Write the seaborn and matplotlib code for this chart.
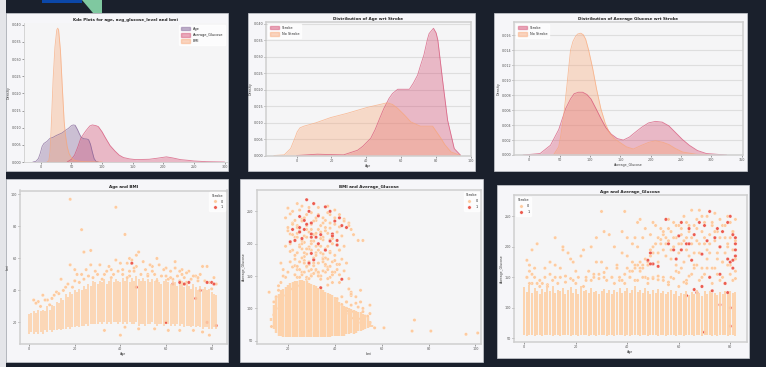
import numpy as np
import pandas as pd
import seaborn as sns
import matplotlib
matplotlib.use('Agg')
import matplotlib.pyplot as plt
from matplotlib.patches import Rectangle, Polygon, Patch

# kde curves
age_x = [-13,-8,-4,-1,2,5,10,15,20,25,30,35,40,45,50,53,56,60,63,66,70,75,78,81,84,87,90,94]
age_y = [0,.0002,.001,.0025,.0045,.0054,.006,.0069,.0072,.0077,.0081,.0085,.0092,.0098,.0106,.0108,.0107,.0094,.0082,.0072,.0068,.0067,.0065,.0052,.003,.001,.0002,0]
glu_x = [43,50,55,60,65,70,74,80,84,90,94,100,105,113,121,128,135,145,155,177,190,205,215,228,240,250,270,300]
glu_y = [0,.0008,.002,.0042,.0068,.0082,.0092,.0105,.0108,.0106,.0103,.0088,.0072,.0048,.0032,.002,.0013,.0009,.0007,.0008,.0011,.0015,.0012,.0007,.0005,.0003,.0001,0]
bmi_x = [10,13,15,17,20,23,26,27.5,29,32,35,38,40,43,46,50,55,60,70,100]
bmi_y = [0,.0003,.003,.0105,.024,.0335,.0385,.039,.0385,.0325,.022,.012,.0081,.0045,.0025,.0012,.0005,.0003,.0001,0]

age_st_x = [0,12,18,27,35,38,42.5,45,48,50,53,55,58,61,64.7,67,69.4,71,73,75,76,78.5,80,81,83.7,86.6,90.4,94]
age_st_y = [0,.0004,.0003,.0002,.0016,.0028,.0052,.0078,.0117,.0142,.0173,.0188,.0201,.0201,.0201,.022,.0244,.0272,.0305,.0352,.037,.0386,.0372,.035,.0229,.0107,.0021,.0001]
age_no_x = [-13,-7,-3.4,-1,0.4,2,4.2,11,19.5,29,40.6,52,55,58,62,65.5,71,78,82.8,85,88.5,94]
age_no_y = [0,.0002,.0021,.0052,.0072,.0084,.0089,.0099,.0115,.0128,.0146,.016,.0155,.0143,.0122,.0102,.0089,.0089,.0052,.0033,.0011,0]

avg_st_x = [-10,18,35,48.6,60,68,74,81,88,95,101.7,110,118,126,135,145,155,165,174,185,196.6,208,219,230,241,252,263.7,277,291.6,325]
avg_st_y = [0,.0002,.0013,.0034,.0062,.0075,.0082,.0084,.0084,.0081,.0075,.0062,.0049,.0037,.0028,.0022,.002,.0024,.003,.0037,.0043,.0045,.0044,.0039,.003,.0021,.0013,.0006,.0002,0]
avg_no_x = [40,48.6,52,57,62,68,72,76.5,80,85,89,93,98,104.5,111,118,125,132,140,149,160,171.5,185,197,208,220,230,240,252.5,275,298]
avg_no_y = [0,.0011,.0026,.0054,.0092,.014,.0152,.0159,.0162,.0163,.0161,.0155,.014,.0116,.0088,.0062,.0043,.003,.0022,.0017,.0011,.0008,.0013,.0017,.0019,.0017,.0014,.0009,.0004,.0001,0]

# dense vertical bands: age column, lowest and highest bmi
band_age = list(range(0, 83))
band_bmi_low = [13,14,13,14,13,14,13,15,14,15,14,15,15,16,15,16,16,17,16,17,17,18,17,18,18,19,18,19,19,19,19,20,19,20,19,20,19,20,20,19,20,19,20,19,20,19,19,20,18,19,19,18,19,19,20,19,18,19,19,18,20,19,18,19,18,19,18,19,17,18,18,17,18,17,18,17,16,17,17,16,16,17,16]
band_bmi_high = [25,26,27,26,28,27,28,27,30,28,31,30,33,32,35,34,38,36,39,38,40,39,41,40,43,41,44,43,46,45,44,46,45,47,44,46,48,45,47,46,45,48,46,47,45,48,46,49,47,46,48,46,47,45,47,46,48,45,44,46,47,45,44,46,45,43,44,46,42,44,43,41,44,42,40,43,41,42,40,41,39,38,37]

# vertical bands for bmi vs glucose: bmi column, lowest and highest glucose
band_b_x = list(range(13, 57))
band_b_low = [80,68,62,58,57,56,56,56,56,56,56,56,56,56,56,56,56,56,56,56,56,56,56,56,56,56,57,57,57,57,58,58,60,60,62,60,62,65,65,66,68,70,72,75]
band_b_high = [85,105,118,123,128,130,133,136,139,141,142,143,144,144,143,142,140,138,136,134,132,130,128,126,124,122,120,118,114,110,106,104,102,100,99,98,96,95,94,92,90,86,80,72]

# vertical bands for age vs glucose
band_g_low = [55,54,55,55,54,55,55,54,55,55,55,54,55,55,54,55,55,55,54,55,55,54,55,55,55,54,55,55,54,55,55,55,54,55,55,54,55,55,55,54,55,54,55,55,55,54,55,55,54,55,55,55,54,55,55,54,55,55,55,54,55,55,54,55,55,55,54,55,55,54,55,55,55,54,55,54,55,55,55,54,55,55,54]
band_g_high = [134,126,138,125,132,128,122,131,126,135,128,136,124,130,127,133,122,129,134,125,131,123,135,127,130,124,132,126,128,122,127,131,125,129,123,130,126,133,124,128,132,125,129,135,126,130,124,132,127,122,129,125,131,124,128,122,126,130,123,127,120,125,122,128,121,126,123,129,124,120,127,122,128,125,124,121,126,123,127,122,128,124,126]

# scattered points around the bands
age_bmi_x = [18,38,23,42,24,27,18,14,20,23,25,28,31,33,36,38,40,41,43,44,45,46,47,47,48,50,52,54,56,57,60,62,63,64,66,67,68,70,73,74,76,78,80,2,4,6,8,10,12,30,35,39,54,61,66,69,72,81,56,44,
             40,79,61,66,42,33,48,55,72,76,20,21,24,26,29,32,34,37,41,43,46,49,51,53,55,58,59,62,64,65,67,69,71,74,75,77,79,82,3,5,7,9,11,13,15,16,17,19,22,27,36,44,52,60,68]
age_bmi_y = [97,92,78,75,64,65,56,47,53,50,53,48,56,50,53,59,57,50,57,60,59,52,55,62,64,58,50,52,60,56,54,52,47,58,46,53,48,52,49,48,55,55,41,34,33,37,34,35,39,50,55,52,55,47,52,51,49,48,46,49,
             12,12,15,15,17,15,16,16,15,14,46,50,47,49,52,47,52,50,53,48,54,50,53,56,50,49,53,48,54,49,50,45,47,46,50,46,45,44,32,30,34,31,37,38,40,42,44,42,45,56,48,52,49,49,44]
age_bmi_rx = [45,47,63,66,68,70,73,75,78,80,60,78,82,81]
age_bmi_ry = [57,42,44,45,44,45,35,40,45,45,20,20,18,44]

bg_x = [20,22,24,26,28,30,31,33,35,37,38,40,42,44,46,20,22,24,26,28,30,32,34,36,38,40,42,44,46,48,21,23,25,27,29,31,33,35,37,39,41,43,45,47,50,21,23,25,27,29,31,33,35,37,39,22,24,26,28,30,32,34,36,38,40,42,44,23,25,27,29,31,33,35,37,39,41,43,24,26,28,30,32,34,36,38,40,42,45,52,17,18,19,20,22,24,26,28,30,32,34,36,39,42,44,46,18,20,22,24,26,28,31,34,37,41,47,51,51,55,61,73,74,81,96,101,55,52,45,45,47,49,42,43,28,
        19,21,23,25,27,29,31,33,35,37,20,22,24,26,28,30,32,34,36,38,19,21,23,25,27,29,31,33,35,37,21,23,25,27,29,31,33,35,37,39,23,25,27,29,31,33,35,37,39,41,22,24,26,28,30,32,34,36,38,40,24,26,28,30,32,34,36,38,40,42,43,45,47,49,44,46,48,50,52,54,46,48,50,53,47,49,51,55,57,45,12,14,15,16,17,14,16,18,15,13,24,27,30,33,36,26,29,32,35,38]
bg_y = [255,250,262,258,245,248,262,256,240,258,245,252,245,238,232,225,232,228,238,222,230,236,228,225,232,240,226,235,228,214,215,210,220,212,218,214,222,210,216,208,218,212,225,222,205,200,205,198,202,195,204,198,206,196,200,190,186,192,184,190,196,186,192,188,182,190,196,176,172,180,168,176,170,178,164,172,168,176,160,156,164,152,158,150,166,148,156,152,170,205,170,160,148,156,164,148,152,145,150,160,150,156,140,168,158,146,120,125,130,135,138,148,170,145,136,115,120,128,110,105,70,65,82,65,60,62,92,100,110,100,125,118,140,106,165,
        240,246,236,252,240,256,235,245,232,248,220,214,216,205,210,204,216,208,220,206,196,188,182,195,186,192,178,190,184,176,172,166,160,174,158,166,154,172,160,156,152,148,156,146,154,150,158,146,152,160,230,225,235,228,222,240,218,236,224,230,210,200,192,200,186,196,178,186,174,190,118,110,122,108,100,130,95,102,95,88,92,85,78,88,105,76,84,78,70,96,125,110,100,135,140,90,128,150,118,72,165,170,160,156,168,178,172,182,176,165]
bg_rx = [28,31,25,29,30,33,36,38,40,43,25,27,30,32,34,39,41,30,36,31,43,34,22,23,26,30,28,33,39,41,45,29,27,25,21,38,42]
bg_ry = [268,262,242,250,232,243,257,250,235,228,225,236,215,210,214,215,205,185,190,175,145,132,222,205,208,210,230,200,212,198,225,170,222,218,203,204,240]

ag_x = [1,2,2,3,4,5,1,6,8,10,12,12,15,15,17,19,20,22,23,25,26,28,28,30,32,33,35,36,38,38,40,40,41,42,43,44,44,45,46,46,47,48,49,49,50,50,51,52,52,53,53,54,54,55,55,56,56,57,57,58,58,59,59,60,60,61,61,62,62,63,63,64,64,65,65,66,66,67,67,68,68,69,69,70,70,71,71,72,72,73,73,74,74,75,75,76,76,77,77,78,78,79,79,80,80,81,81,82,82,82,3,7,9,11,14,16,18,21,24,27,29,31,34,37,39,41,43,45,47,48,50,52,54,56,30,31,39,
        42,43,44,45,46,47,48,49,50,51,52,53,54,55,56,57,58,59,60,61,62,63,64,65,66,67,68,69,70,71,72,73,74,75,76,77,78,79,80,81,57,59,61,63,65,67,69,71,73,75,77,79,81,82,56,58,60,62,64,66,68,70,72,74,76,78,80,82,60,63,35,37,38,39,40,41,42,43,44,45,2,4,6,8,10,13,16,18,20,24,26,29,32,34,36,46,48,50,52,54,1,3,5,9,12,14,19,23,27,31]
ag_y = [150,160,170,155,165,205,150,145,150,155,215,170,200,195,190,175,160,185,195,160,200,215,175,175,165,220,200,165,190,225,185,215,160,205,215,200,240,245,215,170,230,170,220,185,240,190,235,215,175,230,205,220,195,215,185,245,210,225,180,200,240,215,170,235,190,205,230,250,175,215,240,185,225,205,260,235,170,245,210,190,260,225,165,240,205,180,250,220,190,235,165,210,255,225,180,245,200,175,235,215,190,250,205,170,240,195,225,180,245,210,140,140,138,145,150,142,148,150,145,150,148,158,150,145,140,150,145,165,150,148,150,146,150,142,258,225,258,
        160,165,170,175,165,180,175,195,200,205,190,212,225,205,230,195,215,235,205,220,210,195,235,215,190,230,205,250,215,195,205,240,225,190,215,175,235,200,215,225,150,160,165,145,155,170,150,165,140,155,150,170,145,160,138,148,158,142,152,165,145,155,150,165,145,140,155,148,135,140,140,150,145,155,165,150,175,170,145,160,140,150,135,165,175,140,152,180,140,150,145,155,145,150,170,150,140,148,152,145,178,195,140,135,150,165,145,135,155,150]
ag_rx = [49,55,56,58,60,61,63,64,66,68,70,72,74,75,77,79,80,81,82,82,59,65,67,69,73,76,78,79,80,81,82,48,50,61,64,69,71,76,79,81,82,49,52,70,63,66,80,72,76,80]
ag_ry = [190,245,205,195,218,240,205,230,220,240,235,258,215,230,225,240,250,220,215,205,180,178,125,135,128,155,140,125,175,165,195,178,172,195,205,188,210,200,180,178,185,172,168,60,120,130,100,150,105,70]

label_names = ['Age', 'Average_Glucose', 'BMI']
stroke_labels = ['Stroke', 'No Stroke']

W, H = 766, 367
card_col = '#f6f6f9'
pink = '#d4486f'
peach = '#f9a574'
purple = '#7d5c93'
pal = {0: '#fdcba0', 1: '#ec5c50'}
band_col = '#fdd2ab'

sns.set_theme(style='white', rc={'font.size': 3})
fig = plt.figure(figsize=(W/100, H/100), dpi=100, facecolor='#1a202c')


def box(x0, y0, x1, y1):
    # pixel box -> figure fraction, y from the top
    return [x0/W, 1-y1/H, (x1-x0)/W, (y1-y0)/H]


def card(x0, y0, x1, y1):
    fig.add_artist(Rectangle((x0/W, 1-y1/H), (x1-x0)/W, (y1-y0)/H, transform=fig.transFigure,
                             fc=card_col, ec='#c9ccd2', lw=0.5, zorder=-1))


def style(ax, title, xl, yl, xt, yt, yfmt='%.3f', full=True, grid=False):
    ax.set_facecolor('#f5f5f6')
    ax.set_title(title, fontsize=2.95, fontweight='bold', pad=1.5, color='#222222')
    ax.set_xlabel(xl, fontsize=2.4, labelpad=1, color='#444444')
    ax.set_ylabel(yl, fontsize=2.4, labelpad=0.6, color='#444444')
    ax.set_xticks(xt)
    ax.set_yticks(yt)
    ax.set_xticklabels([str(v) for v in xt])
    ax.set_yticklabels([yfmt % v for v in yt])
    ax.tick_params(labelsize=2.4, length=1.2, width=0.4, pad=1, colors='#555555', bottom=True, left=True)
    for s in ax.spines.values():
        s.set_color('#cfcfcf')
        s.set_linewidth(1.1 if full else 0.6)
    if not full:
        ax.spines['top'].set_visible(False)
        ax.spines['right'].set_visible(False)
    if grid:
        ax.grid(axis='y', color='#dedede', lw=0.8)
        ax.set_axisbelow(True)


def kde(ax, x, y, col, name):
    sns.lineplot(x=x, y=y, ax=ax, color=col, lw=0.6, alpha=0.7, legend=False, estimator=None)
    ax.fill_between(x, 0, y, color=col, alpha=0.35, lw=0)


def legend_patches(ax, names, cols, loc):
    hs = [Patch(fc=c, ec=c, alpha=0.45) for c in cols]
    ax.legend(hs, names, loc=loc, fontsize=2.5, frameon=True, facecolor='white', edgecolor='white',
              framealpha=0.8, handlelength=2.6, handleheight=1.2, borderpad=0.6, labelspacing=0.6)


def scatter(ax, x, y, rx, ry, loc):
    df = pd.DataFrame({'x': list(x)+list(rx), 'y': list(y)+list(ry),
                       'Stroke': [0]*len(x)+[1]*len(rx)})
    sns.scatterplot(data=df, x='x', y='y', hue='Stroke', palette=pal, s=6, edgecolor='white',
                    linewidth=0.2, ax=ax, legend='full')
    ax.legend(title='Stroke', loc=loc, fontsize=2.5, title_fontsize=2.5, frameon=True, facecolor='white',
              edgecolor='white', framealpha=0.8, borderpad=0.5, labelspacing=0.5, markerscale=1)


# page
fig.add_artist(Rectangle((0, 0), 5.5/W, 1, transform=fig.transFigure, fc='#e4e5e9', ec='none', zorder=-2))
fig.add_artist(Rectangle((42/W, 1-2.5/H), 40/W, 2.5/H, transform=fig.transFigure, fc='#0b47a8', ec='none', zorder=-1))
fig.add_artist(Polygon([(82/W, 1), (102/W, 1), (102/W, 1-13/H), (93/W, 1-13/H)], transform=fig.transFigure,
                       fc='#7fc8a0', ec='none', zorder=-1))
card(6, 13, 228, 171)
card(248, 13, 475, 171)
card(494, 13, 747, 171)
card(6, 179, 228, 362)
card(240, 179, 483, 362)
card(497, 185, 749, 358)

# kde of the three columns
ax1 = fig.add_axes(box(24, 23, 227, 162))
kde(ax1, age_x, age_y, purple, label_names[0])
kde(ax1, glu_x, glu_y, pink, label_names[1])
kde(ax1, bmi_x, bmi_y, peach, label_names[2])
ax1.set_xlim(-27.5, 304)
ax1.set_ylim(0, 0.0405)
style(ax1, 'Kde Plots for age, avg_glucose_level and bmi', '', 'Density', [0, 50, 100, 150, 200, 250, 300],
      [0, .005, .01, .015, .02, .025, .03, .035, .04], full=False)
legend_patches(ax1, label_names, [purple, pink, peach], 'upper right')

# age wrt stroke
ax2 = fig.add_axes(box(266, 22, 471, 155.5))
kde(ax2, age_st_x, age_st_y, pink, stroke_labels[0])
kde(ax2, age_no_x, age_no_y, peach, stroke_labels[1])
ax2.set_xlim(-17.5, 100)
ax2.set_ylim(0, 0.0405)
style(ax2, 'Distribution of Age wrt Stroke', 'Age', 'Density', [0, 20, 40, 60, 80, 100],
      [0, .005, .01, .015, .02, .025, .03, .035, .04], grid=True)
legend_patches(ax2, stroke_labels, [pink, peach], 'upper left')

# glucose wrt stroke
ax3 = fig.add_axes(box(514, 22, 743, 155))
kde(ax3, avg_st_x, avg_st_y, pink, stroke_labels[0])
kde(ax3, avg_no_x, avg_no_y, peach, stroke_labels[1])
ax3.set_xlim(-25, 352)
ax3.set_ylim(0, 0.0178)
style(ax3, 'Distribution of Average Glucose wrt Stroke', 'Average_Glucose', 'Density',
      [0, 50, 100, 150, 200, 250, 300, 350], [0, .002, .004, .006, .008, .01, .012, .014, .016], grid=True)
legend_patches(ax3, stroke_labels, [pink, peach], 'upper left')

# age and bmi
ax4 = fig.add_axes(box(20, 190.5, 226.5, 344))
ax4.vlines(band_age, band_bmi_low, band_bmi_high, color=band_col, lw=1.2)
scatter(ax4, age_bmi_x, age_bmi_y, age_bmi_rx, age_bmi_ry, 'upper right')
ax4.set_xlim(-4, 86.5)
ax4.set_ylim(6.5, 102.5)
style(ax4, 'Age and BMI', 'Age', 'bmi', [0, 20, 40, 60, 80], [20, 40, 60, 80, 100], yfmt='%d')

# bmi and glucose
ax5 = fig.add_axes(box(256.5, 190, 481, 344))
ax5.vlines(band_b_x, band_b_low, band_b_high, color=band_col, lw=1.75)
scatter(ax5, bg_x, bg_y, bg_rx, bg_ry, 'upper right')
ax5.set_xlim(6.6, 102.4)
ax5.set_ylim(45, 283)
style(ax5, 'BMI and Average_Glucose', 'bmi', 'Average_Glucose', [20, 40, 60, 80, 100],
      [50, 100, 150, 200, 250], yfmt='%d')

# age and glucose
ax6 = fig.add_axes(box(514, 195, 747, 342))
ax6.vlines(band_age, band_g_low, band_g_high, color=band_col, lw=1.35)
scatter(ax6, ag_x, ag_y, ag_rx, ag_ry, 'upper left')
ax6.set_xlim(-4, 86.5)
ax6.set_ylim(44, 285)
style(ax6, 'Age and Average_Glucose', 'Age', 'Average_Glucose', [0, 20, 40, 60, 80],
      [50, 100, 150, 200, 250], yfmt='%d')

fig.savefig('out.png', dpi=100, facecolor=fig.get_facecolor())
